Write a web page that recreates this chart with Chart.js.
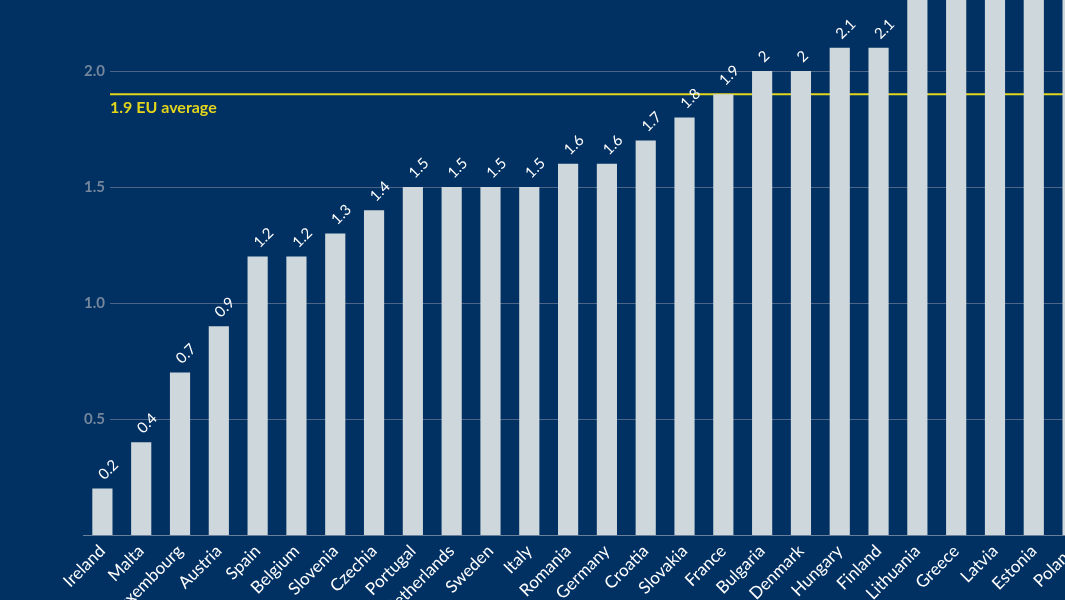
<!DOCTYPE html>
<html>
<head>
<meta charset="utf-8">
<script src="https://cdn.jsdelivr.net/npm/chart.js@4/dist/chart.umd.min.js"></script>
<style>
  html, body { margin: 0; padding: 0; background: #013062; overflow: hidden; }
  #wrap { position: relative; width: 1065px; height: 600px; overflow: hidden; }
  #box { position: absolute; left: 0; top: 0; width: 1092px; height: 615px; }
</style>
</head>
<body>
<div id="wrap"><div id="box"><canvas id="chart"></canvas></div></div>
<script>
const countries = ["Ireland", "Malta", "Luxembourg", "Austria", "Spain", "Belgium", "Slovenia",
  "Czechia", "Portugal", "Netherlands", "Sweden", "Italy", "Romania", "Germany", "Croatia",
  "Slovakia", "France", "Bulgaria", "Denmark", "Hungary", "Finland", "Lithuania", "Greece",
  "Latvia", "Estonia", "Poland"];
const values = [0.2, 0.4, 0.7, 0.9, 1.2, 1.2, 1.3, 1.4, 1.5, 1.5, 1.5, 1.5, 1.6, 1.6, 1.7,
  1.8, 1.9, 2, 2, 2.1, 2.1, 2.4, 2.5, 2.6, 2.8, 3.0];
const euAverage = 1.9;
const avgLabel = "1.9 EU average";
const yTicks = [0.5, 1.0, 1.5, 2.0];

const FONT = "Lato, 'Noto Sans', sans-serif";

// grid lines start right of the mirrored tick labels, avg line + label, rotated value labels
const decor = {
  id: "decor",
  beforeDatasetsDraw(chart) {
    const { ctx, chartArea, scales } = chart;
    const y = scales.y;
    const x0 = chartArea.left + 27;
    ctx.save();
    ctx.lineWidth = 1;
    ctx.strokeStyle = "#4d6688";
    yTicks.forEach((t) => {
      const py = Math.round(y.getPixelForValue(t)) + 0.5;
      ctx.beginPath();
      ctx.moveTo(x0, py);
      ctx.lineTo(chartArea.right, py);
      ctx.stroke();
    });
    const ay = y.getPixelForValue(euAverage);
    ctx.strokeStyle = "#e3d51c";
    ctx.lineWidth = 2;
    ctx.beginPath();
    ctx.moveTo(x0, ay);
    ctx.lineTo(chartArea.right, ay);
    ctx.stroke();
    ctx.fillStyle = "#e3d51c";
    ctx.font = "bold 16px " + FONT;
    ctx.textAlign = "left";
    ctx.textBaseline = "alphabetic";
    ctx.fillText(avgLabel, x0, ay + 19);
    ctx.restore();
  },
  afterDatasetsDraw(chart) {
    const { ctx } = chart;
    const meta = chart.getDatasetMeta(0);
    ctx.save();
    ctx.fillStyle = "#ffffff";
    ctx.font = "15px " + FONT;
    ctx.textAlign = "left";
    ctx.textBaseline = "alphabetic";
    meta.data.forEach((bar, i) => {
      ctx.save();
      ctx.translate(bar.x + 2, bar.y - 8);
      ctx.rotate(-Math.PI / 4);
      ctx.fillText(String(values[i]), 0, 0);
      ctx.restore();
    });
    ctx.restore();
  },
};

new Chart(document.getElementById("chart"), {
  type: "bar",
  data: {
    labels: countries,
    datasets: [{
      data: values,
      backgroundColor: "#cdd7dc",
      categoryPercentage: 1,
      barPercentage: 0.52,
    }],
  },
  plugins: [decor],
  options: {
    responsive: true,
    maintainAspectRatio: false,
    animation: false,
    layout: { padding: { left: 83, right: 0, top: 0, bottom: 0 } },
    plugins: {
      legend: { display: false },
      tooltip: { enabled: false },
    },
    scales: {
      x: {
        grid: { display: false, drawTicks: false },
        border: { display: true, color: "#6a7f99", width: 1 },
        ticks: {
          color: "#ffffff",
          font: { family: FONT, size: 17 },
          minRotation: 45,
          maxRotation: 45,
          autoSkip: false,
          padding: 6,
        },
        afterFit: (s) => {
          s.height = 80;
          s.paddingLeft = 0;
          s.paddingRight = 0;
        },
      },
      y: {
        min: 0,
        max: 2.306,
        afterFit: (s) => {
          s.width = 0;
          s.paddingTop = 0;
          s.paddingBottom = 0;
        },
        grid: { display: false, drawTicks: false },
        border: { display: false },
        ticks: {
          mirror: true,
          padding: 1,
          includeBounds: false,
          stepSize: 0.5,
          color: "#74869c",
          font: { family: FONT, size: 15, weight: "bold" },
          callback: (v) => (v === 0 ? "" : v.toFixed(1)),
        },
      },
    },
  },
});
</script>
</body>
</html>
